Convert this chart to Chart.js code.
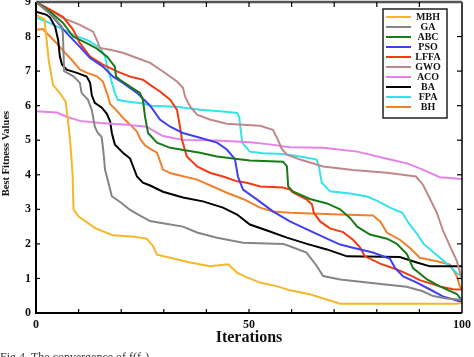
<!DOCTYPE html>
<html><head><meta charset="utf-8">
<script src="https://cdn.jsdelivr.net/npm/chart.js@4.4.0/dist/chart.umd.min.js"></script>
<style>html,body{margin:0;padding:0;background:#fff;overflow:hidden}#wrap{position:relative;width:474px;height:357px}</style>
</head><body><div id="wrap"><canvas id="c" width="474" height="357"></canvas></div>
<script>
// Data: [iteration, best fitness]
const seriesNames = ["MBH","GA","ABC","PSO","LFFA","GWO","ACO","BA","FPA","BH"];
const MBH = [[0,8.63],[2,8.5],[3,7.3],[4,6.6],[6,6.3],[7,6.1],[8,5.0],[8.6,4.0],[8.8,3.0],[10,2.79],[14,2.45],[18,2.25],[23,2.21],[26,2.15],[27.5,1.93],[28.4,1.69],[31.5,1.6],[36.2,1.46],[40.8,1.35],[45.1,1.41],[47.2,1.17],[49.5,1.03],[52.6,0.88],[56.6,0.77],[59.6,0.66],[64.3,0.54],[68.2,0.39],[71.4,0.27],[98.8,0.27],[100,0.3]];
const GA = [[0,9.0],[3,8.7],[6,8.3],[6.3,8.1],[6.6,7.0],[8.8,6.85],[10.3,6.66],[10.7,6.37],[12.2,6.17],[13.1,5.88],[13.8,5.39],[14.5,5.21],[15.4,5.1],[15.7,4.81],[16,4.44],[16.2,4.15],[17,3.77],[17.8,3.38],[20,3.19],[22,2.99],[24,2.85],[26.8,2.66],[29.1,2.61],[34.5,2.5],[37.8,2.33],[42.5,2.18],[48.6,2.03],[58,2.0],[59.6,1.93],[63.5,1.75],[65.9,1.36],[67.4,1.07],[71.4,0.97],[81.5,0.83],[87,0.76],[90.8,0.63],[93.2,0.49],[96.4,0.42],[100,0.38]];
const ABC = [[0,9.0],[3,8.75],[6.3,8.4],[8.7,8.0],[12,7.8],[14.3,7.65],[16.7,7.42],[18.5,7.13],[18.8,6.84],[19.7,6.75],[22.1,6.55],[24.4,6.37],[25.1,6.17],[25.6,5.68],[26.3,5.21],[28.4,4.93],[31.5,4.78],[38.5,4.64],[42.5,4.53],[47.2,4.46],[50.2,4.41],[58,4.38],[58.9,4.24],[59.2,3.66],[60.3,3.52],[64.3,3.3],[68.3,3.17],[71.4,3.0],[73.7,2.75],[75.4,2.5],[78.4,2.27],[82.4,2.15],[84.7,2.0],[87.1,1.7],[88.5,1.3],[91.8,0.97],[94.8,0.77],[98.8,0.55],[100,0.36]];
const PSO = [[0,9.0],[3,8.7],[7.2,8.1],[10.3,7.7],[12.7,7.38],[15.7,7.13],[18.1,6.84],[20.4,6.66],[23.7,6.37],[26.8,6.0],[29.1,5.6],[31.5,5.39],[34.5,5.21],[38.5,5.07],[42.5,4.93],[44.8,4.73],[46.7,4.45],[47.4,3.95],[48.6,3.57],[51.9,3.28],[55.6,2.94],[59.6,2.65],[63.6,2.42],[68.3,2.15],[71.4,1.98],[74.4,1.89],[79.1,1.75],[83.1,1.57],[84.3,1.3],[86.2,1.06],[89.4,0.88],[92.5,0.68],[95.5,0.48],[100,0.32]];
const LFFA = [[0,9.0],[3,8.8],[6.3,8.57],[8.7,8.2],[10.3,7.81],[12.7,7.42],[15.7,7.19],[19,6.99],[22.1,6.84],[25.1,6.75],[26.8,6.6],[29.1,6.41],[31.5,6.17],[33.1,5.88],[33.8,5.39],[34.3,5.0],[35.4,4.53],[37.8,4.24],[40.8,4.06],[43.9,3.95],[47.2,3.81],[49.5,3.77],[52.6,3.66],[58,3.63],[59.6,3.57],[60.3,3.49],[63.6,3.28],[64.8,3.14],[65.2,2.9],[66.7,2.65],[69,2.45],[72.1,2.34],[74.4,2.12],[76.1,1.89],[77.2,1.64],[80.8,1.43],[84.7,1.26],[88,1.08],[90.1,0.95],[94.8,0.77],[97.9,0.69],[100,0.68]];
const GWO = [[0,9.0],[3.3,8.77],[6.3,8.54],[10.3,8.34],[13.4,8.14],[14.3,7.9],[15,7.67],[17.4,7.62],[20.4,7.53],[23.7,7.38],[26.8,7.24],[29.8,6.99],[33.1,6.7],[34.5,6.52],[35,6.26],[36.2,5.97],[37.8,5.74],[40.8,5.6],[44.8,5.48],[48.6,5.45],[52.6,5.42],[55.6,5.3],[56.8,5.01],[57.7,4.75],[58.9,4.58],[62,4.44],[67.4,4.24],[74.4,4.14],[82.4,4.06],[89.2,3.95],[90.8,3.72],[92.5,3.3],[94.1,2.9],[95.5,2.4],[97.2,1.93],[98.8,1.5],[100,0.97]];
const ACO = [[0,5.84],[4.9,5.8],[7.2,5.68],[10.3,5.56],[15,5.5],[21.4,5.45],[26,5.39],[27.5,5.28],[29.8,5.12],[34.5,5.01],[42.5,4.99],[50.2,4.94],[54.9,4.88],[59.6,4.8],[67.4,4.78],[75.4,4.67],[83.1,4.44],[87.1,4.33],[90.8,4.15],[94.8,3.93],[100,3.88]];
const BA = [[0,8.72],[2.5,8.63],[3.3,8.55],[4.5,8.28],[5.2,7.9],[5.6,7.42],[6.1,7.19],[7.2,7.04],[9.6,6.95],[11.9,6.84],[12.7,6.66],[13.1,6.3],[13.8,6.08],[15.4,5.95],[16.6,5.77],[17.4,5.55],[17.8,5.21],[18.5,4.88],[20.4,4.64],[22.1,4.47],[22.8,4.24],[23.7,3.95],[25.1,3.77],[26.8,3.69],[29.8,3.51],[34.5,3.34],[39.2,3.23],[43.9,3.05],[47.2,2.85],[50.2,2.56],[54.9,2.36],[58.9,2.18],[63.6,2.0],[68.3,1.84],[73,1.64],[85.4,1.62],[89.4,1.46],[92.5,1.35],[100,1.35]];
const FPA = [[0,8.55],[2.5,8.43],[5.6,8.25],[8.7,8.05],[12,7.9],[15,7.68],[16.2,7.42],[16.7,7.13],[17.4,6.84],[18.5,6.37],[19.2,6.17],[21.4,6.12],[25.1,6.06],[26.8,6.0],[33.1,5.97],[38.5,5.88],[43.9,5.83],[47.2,5.79],[47.7,5.68],[48.4,4.93],[50.2,4.67],[53.3,4.62],[58,4.6],[62,4.53],[65.9,4.44],[66.4,4.24],[67.1,3.77],[69,3.52],[73.7,3.46],[77.7,3.37],[80,3.25],[83.1,3.05],[86,2.9],[87.5,2.6],[89.4,2.3],[91,2.0],[94.8,1.6],[97.2,1.35],[98.8,1.15],[100,1.07]];
const BH = [[0,8.2],[1.6,8.22],[3.3,8.0],[4.9,7.8],[6.3,7.6],[8,7.38],[10.3,7.05],[12,6.95],[14.3,6.85],[15.7,6.7],[16.7,6.35],[17.4,6.05],[19,5.85],[20.4,5.65],[22.1,5.45],[23.7,5.25],[24.4,5.05],[25.6,4.85],[26.8,4.75],[28.4,4.64],[29.1,4.4],[29.8,4.15],[31.5,4.05],[33.1,4.0],[37.8,3.86],[41.5,3.66],[44.8,3.48],[48.6,3.3],[52.6,3.05],[55.6,2.94],[59.6,2.9],[71.4,2.85],[79.1,2.82],[80.8,2.65],[82.4,2.32],[85.4,2.12],[87.8,1.88],[90.1,1.6],[94.1,1.5],[97.2,1.4],[98.8,1.06],[99.5,0.77],[100,0.68]];
const yTicks = [0,1,2,3,4,5,6,7,8,9];
const xTickLabels = [0,50,100];
const colors = ["#f5b72a","#858585","#1a7a1a","#4040ee","#f03c12","#c08888","#e383e8","#000000","#36e2ea","#f0802c"];

const allSeries = [MBH,GA,ABC,PSO,LFFA,GWO,ACO,BA,FPA,BH];
const serif = "'Liberation Serif','DejaVu Serif',serif";

const datasets = seriesNames.map((n,i)=>({
  label:n,
  data: allSeries[i].map(p=>({x:p[0],y:p[1]})),
  borderColor: colors[i], backgroundColor: colors[i],
  borderWidth: 2, pointRadius: 0, tension: 0, fill:false
}));
const framePlugin = {
  id:'frame',
  afterDatasetsDraw(chart){
    const ctx = chart.ctx, a = chart.chartArea;
    const xs = chart.scales.x, ys = chart.scales.y;
    ctx.save();
    ctx.strokeStyle = '#000'; ctx.lineWidth = 2;
    ctx.beginPath();
    ctx.moveTo(a.left, a.top); ctx.lineTo(a.left, a.bottom); ctx.lineTo(a.right, a.bottom);
    ctx.stroke();
    ctx.lineWidth = 1.5; ctx.beginPath(); ctx.moveTo(a.right, a.bottom); ctx.lineTo(a.right, a.top); ctx.stroke();
    ctx.strokeStyle = '#555'; ctx.lineWidth = 2.5; ctx.beginPath(); ctx.moveTo(a.left, a.top); ctx.lineTo(a.right, a.top); ctx.stroke();
    ctx.strokeStyle = '#000'; ctx.lineWidth = 1.2;
    for (let v=10; v<100; v+=10){
      const px = xs.getPixelForValue(v);
      ctx.beginPath(); ctx.moveTo(px, a.top); ctx.lineTo(px, a.top+5); ctx.stroke();
      ctx.beginPath(); ctx.moveTo(px, a.bottom); ctx.lineTo(px, a.bottom-4); ctx.stroke();
    }
    for (const v of yTicks){
      if (v===0||v===9) continue;
      const py = ys.getPixelForValue(v);
      ctx.beginPath(); ctx.moveTo(a.right, py); ctx.lineTo(a.right-5, py); ctx.stroke();
      ctx.beginPath(); ctx.moveTo(a.left, py); ctx.lineTo(a.left+4, py); ctx.stroke();
    }
    const lx=383, ly=9, lw=64, lh=109;
    ctx.fillStyle='#fff'; ctx.fillRect(lx,ly,lw,lh);
    ctx.strokeStyle='#222'; ctx.lineWidth=1.5; ctx.strokeRect(lx,ly,lw,lh);
    ctx.font = "bold 10px "+serif; ctx.textAlign='center'; ctx.textBaseline='middle';
    chart.data.datasets.forEach((d,i)=>{
      const y = ly + 8 + i*10;
      ctx.strokeStyle = d.borderColor; ctx.lineWidth = 2;
      ctx.beginPath(); ctx.moveTo(lx+3, y); ctx.lineTo(lx+28, y); ctx.stroke();
      ctx.fillStyle='#111'; ctx.fillText(d.label, lx+45, y+0.5);
    });
    ctx.textAlign='left'; ctx.textBaseline='alphabetic';
    ctx.font = "12px "+serif; ctx.fillStyle='#333';
    ctx.fillText("Fig.4. The convergence of f(f\u2081)", 0, 361);
    ctx.restore();
  }
};

new Chart(document.getElementById('c'), {
  type:'line',
  data:{datasets},
  options:{
    responsive:false, animation:false,
    layout:{padding:{left:0,right:12,top:2,bottom:10}},
    plugins:{legend:{display:false}, tooltip:{enabled:false}},
    scales:{
      x:{type:'linear', min:0, max:100,
        afterBuildTicks(s){ s.ticks = xTickLabels.map(v=>({value:v})); },
        afterFit(s){ s.height = 34; s.paddingLeft = 0; s.paddingRight = 0; },
        grid:{display:false, drawTicks:false}, border:{display:false},
        ticks:{color:'#111', font:{family:serif, weight:'bold', size:12}, padding:5, maxRotation:0, autoSkip:false},
        title:{display:true, text:'Iterations', color:'#111', font:{family:serif, weight:'bold', size:16}, padding:{top:0,bottom:0}}
      },
      y:{min:0, max:9,
        afterBuildTicks(s){ s.ticks = yTicks.map(v=>({value:v})); },
        afterFit(s){ s.width = 36; s.paddingTop = 0; s.paddingBottom = 0; },
        grid:{display:false, drawTicks:false}, border:{display:false},
        ticks:{color:'#111', font:{family:serif, weight:'bold', size:12}, padding:5},
        title:{display:true, text:'   Best Fitness Values', color:'#111', font:{family:serif, weight:'bold', size:10.5}, padding:{top:0,bottom:4}}
      }
    }
  },
  plugins:[framePlugin]
});
</script></body></html>
